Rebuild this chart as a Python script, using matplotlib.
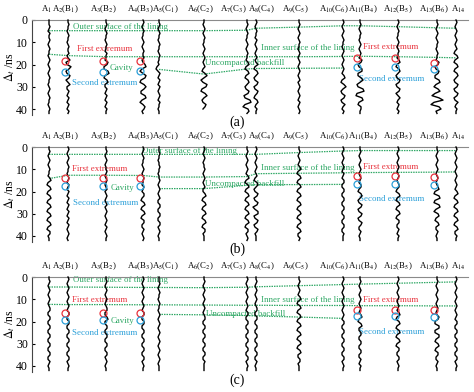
import numpy as np
import matplotlib.pyplot as plt

plt.rcParams['font.family'] = ['Liberation Serif', 'DejaVu Serif']
plt.rcParams['mathtext.fontset'] = 'stix'

# column names of the survey traces
names = [r'A$_1$', r'A$_2$(B$_1$)', r'A$_3$(B$_2$)', r'A$_4$(B$_3$)', r'A$_5$(C$_1$)',
         r'A$_6$(C$_2$)', r'A$_7$(C$_3$)', r'A$_8$(C$_4$)', r'A$_9$(C$_5$)',
         r'A$_{10}$(C$_6$)', r'A$_{11}$(B$_4$)', r'A$_{12}$(B$_5$)', r'A$_{13}$(B$_6$)', r'A$_{14}$']

# trace amplitude (px) every 1 ns
traces_a = [
    [0,0,0,1,0,-1,1,0,0,1,0,-1,0,1,0,0,-1,0,1,0,-1,0,1,0,-1,0,1,0,0,-1,0,1,0,-1,0,1,0,0,-1,0,1,0,0],
    [0,0,1,0,0,-1,0,1,0,0,-1,0,1,0,0,1,-1,0,2,-2,-1,3,1,-2,-1,2,1,-2,0,2,-1,-1,1,0,-1,1,0,-1,1,0,-1,1,0],
    [0,0,1,0,-1,0,1,0,0,-1,0,1,0,0,-1,1,0,0,-1,2,1,-2,-2,2,3,-1,-2,1,2,-1,-1,1,0,-1,1,0,-1,1,0,-1,1,0,0],
    [0,1,0,-1,0,1,0,0,-1,0,1,0,-1,0,1,0,0,1,-1,0,2,3,-1,-3,0,3,2,-2,-3,1,3,1,-2,-2,2,3,-1,-3,0,2,1,-1,0],
    [0,0,1,0,-1,0,1,0,0,-1,0,1,0,0,-1,0,1,0,0,-1,0,-2,-3,-1,1,0,-1,1,0,-1,1,0,-1,0,1,0,-1,1,0,0,-1,0,0],
    [0,0,-1,0,1,0,-1,0,1,0,0,-1,0,1,0,-1,0,1,0,-1,0,1,-1,-2,1,3,0,-3,-1,3,2,-2,-3,1,3,0,-2,-1,2,1,-1],
    [0,0,1,0,-1,0,1,0,0,-1,0,1,0,-1,0,1,0,0,-1,1,2,-1,-2,1,2,-1,-2,1,2,0,-2,-1,2,1,-3,-2,3,4,-2,-4,1,2,0],
    [0,1,0,-1,0,1,0,0,-1,1,0,-1,0,1,0,-1,0,1,-1,0,2,-1,-2,1,2,0,-2,-1,2,1,-2,-1,2,1,-1,-2,1,2,0,-1,1,0,0],
    [0,0,1,0,-1,0,1,0,-1,0,1,0,0,-1,0,1,0,-1,0,1,0,-1,0,1,0,-1,0,1,-1,0,1,0,-1,0,1,0,-1,1,0,-1,0,1,0],
    [0,1,0,-1,0,1,0,-1,0,1,0,0,-1,0,1,0,-1,0,1,0,-1,0,1,0,-1,1,2,-1,-2,1,3,0,-2,-1,2,1,-2,-1,2,0,-1,1,0],
    [0,0,1,0,-1,0,1,0,0,-1,0,1,0,-1,0,1,0,-1,2,1,-2,-1,2,2,-2,-2,1,3,0,-3,-2,3,4,-3,-4,2,3,-1,-2,1,1,0,0],
    [0,1,0,-1,0,1,0,0,-1,0,1,0,-1,0,1,0,0,-1,1,2,-1,-2,1,2,0,-2,-1,2,1,-2,-1,2,1,-2,0,2,0,-1,1,0,-1,1,0],
    [0,0,1,0,-1,0,1,0,-1,0,1,0,0,-1,0,1,0,0,-1,2,1,-2,-1,2,1,-2,-2,2,3,-1,-3,1,3,-2,-5,2,6,-3,-6,2,4,-1,0],
    [0,1,0,-1,0,1,0,-1,0,1,0,-1,0,1,-1,-2,1,2,-1,-2,1,2,-1,-2,1,2,0,-2,-1,2,1,-2,-1,2,1,-2,-1,2,0,-1,1,0,0],
]
traces_b = [
    [0,0,1,0,-1,0,1,0,-1,0,1,0,0,-1,1,2,-1,-2,1,2,-1,-2,1,2,-1,-2,1,2,-1,-2,1,2,-1,-2,1,2,-1,-2,1,1,-1,0,0],
    [0,1,0,-1,0,1,0,-1,0,1,0,0,-1,0,1,0,-1,1,0,-1,1,0,-1,1,0,-1,1,0,-1,1,0,-1,1,0,-1,1,0,-1,0,1,0,-1,0],
    [0,0,1,0,-1,0,1,0,-1,0,0,1,0,-1,0,1,0,-1,0,1,-1,0,1,0,-1,0,1,-1,0,1,0,-1,0,1,0,-1,1,0,-1,0,1,0,0],
    [0,1,0,-1,0,1,0,0,-1,0,1,0,-1,0,1,0,0,-1,1,0,-1,1,1,-1,-2,1,2,-1,-2,1,2,-1,-2,1,1,-1,-1,1,0,-1,0,1,0],
    [0,0,0,1,0,0,-1,0,0,1,0,0,-1,0,0,1,0,-1,0,1,0,-1,0,1,-1,-1,1,1,-1,-1,1,1,-1,-1,1,1,-1,0,1,0,-1,0,0],
    [0,1,0,-1,0,1,0,-1,0,0,1,0,-1,0,1,0,-1,0,1,-1,-1,1,2,-1,-2,1,2,-1,-2,1,2,-1,-2,1,2,-1,-2,1,1,-1,0,0,0],
    [0,0,1,0,-1,0,1,0,-1,0,1,0,-1,1,2,-1,-2,1,2,-1,-2,1,2,-1,-2,1,2,-1,-2,1,2,-1,-2,1,2,-1,-2,1,1,-1,0,1,0],
    [0,1,0,-1,0,1,0,-1,0,1,0,-1,0,1,-1,-2,1,2,0,-2,-1,2,1,-2,-1,2,1,-3,-1,2,2,-2,-1,2,1,-2,-1,2,1,-1,0,0,0],
    [0,0,1,0,-1,0,1,0,-1,1,2,-1,-2,1,2,-1,-2,1,2,-1,-2,1,2,-1,-2,1,2,-1,-2,1,2,-1,-2,1,2,-1,-2,1,2,-1,-1,1,0],
    [0,1,0,-1,0,1,0,-1,0,1,0,-1,1,0,-1,1,1,-1,-1,1,1,-1,-1,1,1,-1,-1,1,1,-1,-1,1,1,-1,-1,1,1,-1,-1,1,0,0,0],
    [0,0,1,0,-1,0,1,0,-1,0,1,0,-1,0,1,0,-1,1,1,-1,-2,1,2,0,-2,-1,2,1,-2,-1,2,1,-2,-1,2,1,-1,-1,1,0,-1,0,0],
    [0,1,0,-1,0,1,0,-1,0,1,0,-1,0,1,0,-1,0,1,1,-1,-2,1,2,-1,-2,1,2,-1,-2,1,2,-1,-2,1,1,-1,-1,1,0,-1,1,0,0],
    [0,0,1,0,-1,0,1,0,-1,0,1,0,-1,0,1,0,-1,0,1,2,-2,-3,2,3,-2,-3,2,3,-1,-3,1,2,-1,-2,1,2,-1,-1,1,0,-1,0,0],
    [0,1,0,-1,0,1,0,-1,0,1,0,-1,0,1,0,-1,0,1,0,-1,1,2,-1,-2,1,2,-1,-2,1,2,-1,-2,1,2,-1,-2,1,2,-1,-1,1,0,0],
]
traces_c = [
    [0,0,1,0,-1,0,1,0,-1,0,1,0,-1,0,1,1,-1,-1,1,1,-1,-1,1,1,-1,-1,1,1,-1,-1,1,1,-1,-1,1,1,-1,-1,1,0,-1,0,0],
    [0,1,0,-1,0,1,0,-1,0,1,0,-1,0,1,0,-1,1,1,-1,-1,1,1,-1,-1,1,1,-1,-1,1,1,-1,-1,1,1,-1,-1,1,1,-1,0,1,0,0],
    [0,0,1,0,-1,0,1,0,-1,0,1,0,-1,0,1,1,-1,-1,1,2,-1,-1,1,1,-1,-1,1,1,-1,-1,1,1,-1,-1,1,1,-1,0,1,0,-1,0,0],
    [0,1,0,-1,0,1,0,-1,0,1,0,-1,0,1,0,-1,1,1,-1,-1,1,1,-1,-1,1,1,-1,-1,1,1,-1,-1,1,1,-1,-1,1,1,-1,0,1,0,0],
    [0,0,0,1,0,-1,0,1,0,0,-1,0,1,0,0,-1,0,1,0,-1,0,1,0,-1,0,1,0,-1,0,1,0,-1,0,1,0,-1,0,1,0,-1,0,0,0],
    [0,0,1,0,-1,0,1,0,-1,0,1,0,-1,0,1,0,-1,0,1,1,-1,-1,1,1,-1,-1,1,1,-1,-1,1,1,-1,-1,1,1,-1,-1,1,0,0,0,0],
    [0,1,0,-1,0,1,0,-1,0,1,0,-1,0,1,0,-1,1,1,-1,-1,1,1,-1,-1,1,1,-1,-1,1,1,-1,-1,1,1,-1,-1,1,1,-1,0,1,0,0],
    [0,0,1,0,-1,0,1,0,-1,0,1,0,-1,0,1,1,-1,-1,1,1,-1,-1,1,1,-1,-1,1,1,-1,-1,1,1,-1,-1,1,1,-1,-1,1,0,-1,0,0],
    [0,0,1,0,-1,0,1,0,-1,1,2,-1,-2,1,2,-1,-2,1,2,-1,-2,1,2,-1,-2,1,2,-1,-2,1,2,-1,-2,1,2,-1,-1,1,1,-1,0,0,0],
    [0,1,0,-1,0,1,0,-1,0,1,0,-1,0,1,0,-1,0,1,0,-1,1,1,-1,-1,1,1,-1,-1,1,1,-1,-1,1,1,-1,-1,1,1,-1,0,1,0,0],
    [0,0,1,0,-1,0,1,0,-1,0,1,0,-1,0,1,0,-1,1,2,-1,-2,1,2,-1,-1,1,1,-1,-1,1,1,-1,-1,1,1,-1,-1,1,0,-1,1,0,0],
    [0,1,0,-1,0,1,0,-1,0,1,0,-1,0,1,0,-1,1,2,-1,-2,1,2,-1,-2,1,2,-1,-2,1,2,-1,-2,1,1,-1,-1,1,1,-1,0,1,0,0],
    [0,0,1,0,-1,0,1,0,-1,0,1,0,-1,0,1,0,-1,0,2,1,-2,-2,2,2,-2,-2,2,2,-1,-2,1,2,-1,-2,1,1,-1,-1,1,0,-1,0,0],
    [0,1,0,-1,0,1,0,-1,0,1,0,-1,0,1,0,-1,0,1,0,-1,1,1,-1,-1,1,1,-1,-1,1,1,-1,-1,1,1,-1,-1,1,1,-1,0,1,0,0],
]

# interfaces (ns) at each trace; backfill runs A5..A10
outer_a = [4.8, 4.8, 4.8, 4.8, 4.8, 4.8, 4.6, 3.7, 3.2, 2.6, 2.6, 3.0, 3.5, 3.7]
inner_a = [15.4, 16.0, 16.5, 16.5, 16.5, 16.5, 16.5, 16.5, 16.5, 16.4, 16.3, 16.5, 16.8, 17.0]
backfill_a = [22.2, 24.3, 22.0, 21.8, 21.7, 21.6]
outer_b = [3.3, 3.3, 3.3, 3.3, 3.3, 3.3, 3.3, 3.3, 2.5, 1.8, 1.6, 1.6, 1.6, 1.6]
inner_b = [14.2, 12.7, 12.7, 12.8, 13.5, 13.5, 13.3, 12.0, 11.8, 11.6, 11.5, 11.4, 11.3, 11.2]
backfill_b = [18.7, 18.7, 17.2, 16.9, 16.9, 16.8]
outer_c = [4.5, 4.5, 4.6, 4.7, 4.7, 4.8, 4.6, 4.4, 3.9, 3.4, 3.2, 2.8, 2.4, 2.2]
inner_c = [12.3, 12.4, 12.4, 12.5, 12.5, 12.6, 12.7, 12.7, 12.8, 12.8, 12.9, 12.9, 13.0, 13.0]
backfill_c = [16.8, 17.0, 17.3, 17.5, 18.0, 18.6]

# extrema (ns) on A2, A3, A4, A11, A12, A13
peak_idx = [1, 2, 3, 10, 11, 12]
first_a = [18.5, 18.5, 18.5, 17.0, 17.0, 19.2]
second_a = [23.2, 23.2, 23.0, 21.0, 21.0, 22.0]
first_b = [13.9, 13.9, 13.9, 13.0, 13.0, 13.5]
second_b = [17.5, 17.5, 17.5, 16.6, 16.6, 17.0]
first_c = [16.0, 16.0, 16.0, 14.8, 14.8, 14.7]
second_c = [19.4, 19.4, 19.4, 17.5, 17.5, 18.0]

# layout (figure pixels)
trace_x = [49, 68, 106, 143, 159, 204, 247, 256, 299, 343, 360, 398, 437, 456]
label_x = [46.5, 65, 103, 140, 165, 200, 233, 261, 295, 334, 363, 398, 434, 458]
W, H = 474, 392
PX = 2.225  # px per ns
YMAX = 42.5
GREEN = '#2fa865'
RED = '#e8323c'
BLUE = '#2a9fd8'

text_a = [(120, 3.3), (105, 13.0), (122, 21.4), (105, 28.2), (245, 19.2), (308, 12.7), (391, 12.3), (392, 26.5)]
text_b = [(189, 1.8), (100, 9.7), (123, 18.4), (106, 25.2), (245, 16.5), (308, 9.4), (391, 9.0), (392, 23.5)]
text_c = [(120, 1.5), (100, 10.5), (123, 19.9), (105, 25.2), (246, 16.5), (308, 10.2), (391, 10.5), (392, 24.7)]
words = [('Outer surface of the lining', GREEN), ('First extremum', RED), ('Cavity', GREEN),
         ('Second extremum', BLUE), ('Uncompacted backfill', GREEN),
         ('Inner surface of the lining', GREEN), ('First extremum', RED), ('Second extremum', BLUE)]


def draw_panel(top, traces, outer, inner, backfill, first, second, tpos):
    ax = fig.add_axes([32 / W, 1 - (top + YMAX * PX) / H, 436 / W, YMAX * PX / H])
    ax.set_xlim(32, 468)
    ax.set_ylim(YMAX, 0)
    for s in ['right', 'bottom']:
        ax.spines[s].set_visible(False)
    ax.spines['top'].set_color('#8a8a8a')
    ax.spines['top'].set_linewidth(0.8)
    ax.spines['left'].set_color('#444444')
    ax.spines['left'].set_linewidth(0.8)
    ax.set_xticks([])
    ax.set_yticks([0, 10, 20, 30, 40])
    ax.tick_params(axis='y', direction='in', length=2, labelsize=8.5, pad=3)
    ax.set_ylabel(r'$\Delta_t$ /ns', fontsize=8.5)
    ax.yaxis.set_label_coords(-15 / 436, 0.5)

    # interface lines
    ls = (0, (1.2, 0.8))
    ax.plot(trace_x, outer, color=GREEN, lw=0.9, ls=ls, zorder=1)
    ax.plot(trace_x, inner, color=GREEN, lw=0.9, ls=ls, zorder=1)
    ax.plot(trace_x[4:10], backfill, color=GREEN, lw=0.9, ls=ls, zorder=1)

    for (txt, col), (tx, ty) in zip(words, tpos):
        ax.text(tx, ty, txt, color=col, fontsize=6.4, ha='center', va='center', zorder=2)

    # wiggle traces
    for x0, amp in zip(trace_x, traces):
        amp = np.asarray(amp, float)
        t = np.arange(len(amp))
        ax.plot(x0 + amp, t, color='black', lw=1.0, zorder=3, clip_on=False)

    px = [trace_x[i] - 2.5 for i in peak_idx]
    ax.plot(px, first, 'o', ms=5, mfc='none', mec=RED, mew=0.9, zorder=4)
    ax.plot(px, second, 'o', ms=5, mfc='none', mec=BLUE, mew=0.9, zorder=4)

    tr = ax.get_xaxis_transform()
    for lx, n in zip(label_x, names):
        ax.text(lx, 1 + 11 / (YMAX * PX), n, transform=tr, fontsize=6.3,
                ha='center', va='center')
    return ax


fig = plt.figure(figsize=(W / 100, H / 100), dpi=100)
draw_panel(20, traces_a, outer_a, inner_a, backfill_a, first_a, second_a, text_a)
draw_panel(147, traces_b, outer_b, inner_b, backfill_b, first_b, second_b, text_b)
draw_panel(277, traces_c, outer_c, inner_c, backfill_c, first_c, second_c, text_c)
for tag, y in [('(a)', 122), ('(b)', 249), ('(c)', 380)]:
    fig.text(237 / W, 1 - y / H, tag, ha='center', va='center', fontsize=10)

fig.savefig('out.png', dpi=100)
